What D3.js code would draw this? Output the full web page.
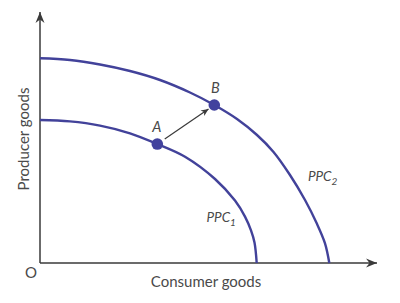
<!DOCTYPE html>
<html>
<head>
<meta charset="utf-8">
<script src="https://cdn.jsdelivr.net/npm/d3@7"></script>
<style>
  html, body { margin: 0; padding: 0; background: #fff; }
  svg { display: block; }
  text { font-family: Lato, "Open Sans", sans-serif; fill: #4a4a4a; }
</style>
</head>
<body>
<svg id="chart" width="400" height="303"></svg>
<script>
// ---- data (abstract units: 0..10 on each axis) ----
const ppc1X = [0, 0.890, 1.780, 2.671, 3.481, 4.303, 5.193, 5.786, 6.083, 6.261, 6.365, 6.430];
const ppc1Y = [5.697, 5.641, 5.474, 5.167, 4.740, 4.235, 3.347, 2.486, 1.849, 1.299, 0.813, 0];
const ppc2X = [0, 0.890, 1.780, 2.671, 3.561, 4.451, 5.172, 5.846, 6.439, 6.923, 7.418, 7.864, 8.211, 8.457, 8.585];
const ppc2Y = [8.155, 8.088, 7.908, 7.649, 7.291, 6.793, 6.295, 5.737, 5.100, 4.434, 3.506, 2.510, 1.582, 0.785, 0];
const pointNames = ["A", "B"];
const pointX = [3.481, 5.172];
const pointY = [4.740, 6.295];
const curveNames = ["PPC", "PPC"];
const curveSubs = ["1", "2"];
const curveLabelX = [4.94, 7.95];
const curveLabelY = [1.64, 3.25];
const xTitle = "Consumer goods";
const yTitle = "Producer goods";
const originLabel = "O";

// ---- layout ----
const svg = d3.select("#chart");
const x = d3.scaleLinear().domain([0, 10]).range([40, 377]);
const y = d3.scaleLinear().domain([0, 10]).range([263, 12]);
const curveColor = "#42429a";
const axisColor = "#3a3a3a";

const defs = svg.append("defs");
defs.append("marker")
  .attr("id", "axisHead").attr("viewBox", "-12 -6 14 12")
  .attr("markerWidth", 14).attr("markerHeight", 12)
  .attr("refX", 0).attr("refY", 0)
  .attr("orient", "auto").attr("markerUnits", "userSpaceOnUse")
  .append("path").attr("d", "M0,0 L-11,-4.5 L-7.5,0 L-11,4.5 Z").attr("fill", axisColor);
defs.append("marker")
  .attr("id", "moveHead").attr("viewBox", "-12 -6 14 12")
  .attr("markerWidth", 12).attr("markerHeight", 10)
  .attr("refX", 0).attr("refY", 0)
  .attr("orient", "auto").attr("markerUnits", "userSpaceOnUse")
  .append("path").attr("d", "M0,0 L-9,-4 L-6.5,0 L-9,4 Z").attr("fill", axisColor);

// axes
svg.append("line")
  .attr("x1", x(0)).attr("y1", y(0)).attr("x2", x(0)).attr("y2", y(10))
  .attr("stroke", axisColor).attr("stroke-width", 1.5).attr("marker-end", "url(#axisHead)");
svg.append("line")
  .attr("x1", x(0)).attr("y1", y(0)).attr("x2", x(10)).attr("y2", y(0))
  .attr("stroke", axisColor).attr("stroke-width", 1.5).attr("marker-end", "url(#axisHead)");

// curves
const line = d3.line().x(d => x(d[0])).y(d => y(d[1])).curve(d3.curveCatmullRom.alpha(0.5));
[[ppc1X, ppc1Y], [ppc2X, ppc2Y]].forEach(([xs, ys]) => {
  svg.append("path")
    .attr("d", line(xs.map((v, i) => [v, ys[i]])))
    .attr("fill", "none").attr("stroke", curveColor).attr("stroke-width", 2.4);
});

// movement arrow A -> B
const ax = x(pointX[0]), ay = y(pointY[0]), bx = x(pointX[1]), by = y(pointY[1]);
const dx = bx - ax, dy = by - ay, len = Math.hypot(dx, dy);
const startOff = 9, endOff = 7;
svg.append("line")
  .attr("x1", ax + dx / len * startOff).attr("y1", ay + dy / len * startOff)
  .attr("x2", bx - dx / len * endOff).attr("y2", by - dy / len * endOff)
  .attr("stroke", axisColor).attr("stroke-width", 1.2).attr("marker-end", "url(#moveHead)");

// points
svg.selectAll("circle.pt").data(pointNames).enter().append("circle")
  .attr("class", "pt")
  .attr("cx", (d, i) => x(pointX[i])).attr("cy", (d, i) => y(pointY[i]))
  .attr("r", 5.8).attr("fill", "#42429e");
svg.selectAll("text.pt").data(pointNames).enter().append("text")
  .attr("class", "pt")
  .attr("x", (d, i) => x(pointX[i]) + (i === 0 ? -0.5 : 1))
  .attr("y", (d, i) => y(pointY[i]) - 12)
  .attr("text-anchor", "middle").attr("font-size", 14.5).attr("font-style", "italic")
  .text(d => d);

// curve labels
curveNames.forEach((n, i) => {
  const t = svg.append("text")
    .attr("x", x(curveLabelX[i])).attr("y", y(curveLabelY[i]))
    .attr("font-size", 13.5).attr("font-style", "italic");
  t.append("tspan").text(n);
  t.append("tspan").attr("dy", 4).attr("font-size", 10).text(curveSubs[i]);
});

// axis titles
svg.append("text")
  .attr("x", 206).attr("y", 287)
  .attr("text-anchor", "middle").attr("font-size", 15)
  .text(xTitle);
svg.append("text")
  .attr("transform", "translate(29,139) rotate(-90)")
  .attr("text-anchor", "middle").attr("font-size", 15)
  .text(yTitle);
svg.append("text")
  .attr("x", 31).attr("y", 278)
  .attr("text-anchor", "middle").attr("font-size", 15)
  .text(originLabel);
</script>
</body>
</html>
